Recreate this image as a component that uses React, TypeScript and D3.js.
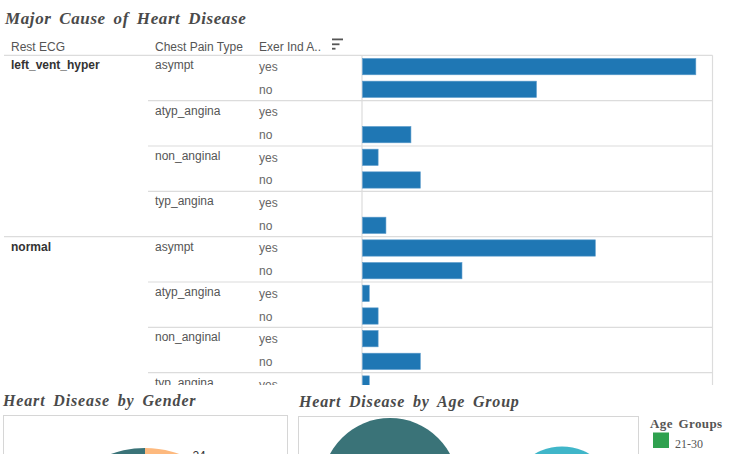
import React from "react";
import * as d3 from "d3";

const restEcg = ["left_vent_hyper", "normal"];
const chestPain = ["asympt", "atyp_angina", "non_anginal", "typ_angina"];
const exerInd = ["yes", "no"];
// counts per chest-pain type, in order [yes, no]
const leftVentHyperCounts = [64, 33.4, 0, 9.3, 3, 11.1, 0, 4.5];
const normalCounts = [44.7, 19.1, 1.3, 3, 3, 11.1, 1.3, 3];

const genderLabels = ["female", "male"];
const genderCounts = [24, 114];
const genderColors = ["#fdb97e", "#3a7378"];

const bubbleGroups = ["51-60", "41-50"];
const bubbleCounts = [64, 40];
const ageGroups = ["21-30", "31-40", "41-50", "51-60", "61-70", "71-80"];
const ageColors = ["#2fa14f", "#9ecae1", "#40b6c9", "#3a7378", "#6baed6", "#c6dbef"];

const W = 736;
const H = 454;
const sans = "'Liberation Sans', Arial, sans-serif";
const serif = "'Liberation Serif', 'Times New Roman', serif";

type Row = { ecg: string; pain: string; ex: string; value: number; key: string };

const rows: Row[] = [];
restEcg.forEach((ecg, ei) => {
  const vals = ei === 0 ? leftVentHyperCounts : normalCounts;
  chestPain.forEach((pain, pi) => {
    exerInd.forEach((ex, xi) => {
      rows.push({ ecg, pain, ex, value: vals[pi * 2 + xi], key: `${ecg}|${pain}|${ex}` });
    });
  });
});

export default function App() {
  const top = 55.3;
  const rowH = 22.67;
  const y = d3
    .scaleBand<string>()
    .domain(rows.map((r) => r.key))
    .range([top, top + rows.length * rowH])
    .paddingInner(0.28)
    .paddingOuter(0.14);
  const x = d3.scaleLinear().domain([0, 67.2]).range([362.5, 712.5]);
  const clipBottom = 385;
  const right = 712.5;
  const lineColor = "#dcdcdc";

  // pie
  const pie = d3.pie<number>().sort(null)(genderCounts);
  const arc = d3.arc<d3.PieArcDatum<number>>().innerRadius(0).outerRadius(100);
  const labelArc = d3.arc<d3.PieArcDatum<number>>().innerRadius(108).outerRadius(108);
  const pieCx = 145;
  const pieCy = 548;

  // bubbles
  const bx = d3.scalePoint<string>().domain(bubbleGroups).range([390, 562]);
  const br = d3.scaleSqrt().domain([0, 64]).range([0, 68]);
  const bubbleBase = 554;
  const ageColor = d3.scaleOrdinal<string, string>().domain(ageGroups).range(ageColors);

  const groupTops: { y: number; ecgStart: boolean }[] = [];
  rows.forEach((r, i) => {
    if (i % 2 === 0 && i > 0) groupTops.push({ y: top + i * rowH, ecgStart: i % 8 === 0 });
  });

  return (
    <svg
      width={W}
      height={H}
      style={{ position: "absolute", left: 0, top: 0, background: "#fff" }}
      fontFamily={sans}
    >
      <defs>
        <clipPath id="tableClip">
          <rect x={0} y={top - 1} width={W} height={clipBottom - top + 1} />
        </clipPath>
      </defs>
      <text
        x={5}
        y={24}
        fontFamily={serif}
        fontWeight="bold"
        fontStyle="italic"
        fontSize={17}
        letterSpacing={0.6}
        wordSpacing={3}
        fill="#4a4a4a"
      >
        Major Cause of Heart Disease
      </text>
      {/* header */}
      <g fontSize={12} fill="#555">
        <text x={11} y={51}>Rest ECG</text>
        <text x={155} y={51}>Chest Pain Type</text>
        <text x={259} y={51}>Exer Ind A..</text>
      </g>
      <g fill="#555">
        <rect x={332} y={38.5} width={11} height={1.8} />
        <rect x={332} y={43.4} width={7.5} height={1.8} />
        <rect x={332} y={47.8} width={3.5} height={1.8} />
      </g>
      <line x1={4} x2={right} y1={top} y2={top} stroke={lineColor} strokeWidth={1.2} />
      <g clipPath="url(#tableClip)">
        {groupTops.map((g, i) => (
          <line
            key={i}
            x1={g.ecgStart ? 4 : 148}
            x2={right}
            y1={g.y}
            y2={g.y}
            stroke={lineColor}
            strokeWidth={1.2}
          />
        ))}
        <line x1={362} x2={362} y1={top} y2={clipBottom} stroke={lineColor} strokeWidth={1.2} />
        <line x1={right} x2={right} y1={top} y2={clipBottom} stroke={lineColor} strokeWidth={1.2} />
        {rows.map((r, i) => {
          const yy = y(r.key)!;
          const rowTop = top + i * rowH;
          return (
            <g key={r.key}>
              {i % 8 === 0 && (
                <text x={11} y={rowTop + 14} fontSize={12} fontWeight="bold" fill="#333">
                  {r.ecg}
                </text>
              )}
              {i % 2 === 0 && (
                <text x={155} y={rowTop + 14} fontSize={12} fill="#555">
                  {r.pain}
                </text>
              )}
              <text x={259} y={rowTop + rowH / 2 + 4.5} fontSize={12} fill="#666">
                {r.ex}
              </text>
              {r.value > 0 && (
                <rect
                  x={x(0)}
                  y={yy}
                  width={x(r.value) - x(0)}
                  height={y.bandwidth()}
                  fill="#1f77b4"
                  stroke="#5d9ccc"
                  strokeWidth={0.6}
                />
              )}
            </g>
          );
        })}
      </g>
      {/* Gender panel */}
      <text
        x={3}
        y={406}
        fontFamily={serif}
        fontWeight="bold"
        fontStyle="italic"
        fontSize={16}
        letterSpacing={0.85}
        wordSpacing={3}
        fill="#4a4a4a"
      >
        Heart Disease by Gender
      </text>
      <rect x={3.5} y={415.5} width={284} height={60} fill="none" stroke="#d6d6d6" />
      <g transform={`translate(${pieCx},${pieCy})`}>
        {pie.map((p, i) => (
          <path key={genderLabels[i]} d={arc(p)!} fill={genderColors[i]} />
        ))}
        {pie
          .filter((p, i) => i === 0)
          .map((p) => {
            const [lx, ly] = labelArc.centroid(p);
            return (
              <text key="lbl" x={lx - 2} y={ly} dy="0.32em" textAnchor="middle" fontSize={12} fill="#333">
                {p.data}
              </text>
            );
          })}
      </g>
      {/* Age group panel */}
      <text
        x={299}
        y={407}
        fontFamily={serif}
        fontWeight="bold"
        fontStyle="italic"
        fontSize={16}
        letterSpacing={0.8}
        wordSpacing={3}
        fill="#4a4a4a"
      >
        Heart Disease by Age Group
      </text>
      <svg x={298.5} y={416.5} width={340} height={60} overflow="hidden">
        <g transform="translate(-298.5,-416.5)">
          {bubbleGroups.map((g, i) => (
            <circle
              key={g}
              cx={bx(g)}
              cy={bubbleBase - br(bubbleCounts[i])}
              r={br(bubbleCounts[i])}
              fill={ageColor(g)}
            />
          ))}
        </g>
      </svg>
      <rect x={298.5} y={416.5} width={340} height={60} fill="none" stroke="#d6d6d6" />
      <text x={650} y={428} fontFamily={serif} fontWeight="bold" fontSize={13} letterSpacing={0.4} wordSpacing={2} fill="#555">
        Age Groups
      </text>
      {ageGroups.map((g, i) => (
        <g key={g} transform={`translate(653,${432.5 + i * 23})`}>
          <rect width={16} height={15.5} fill={ageColor(g)} />
          <text x={22} y={15} fontFamily={serif} fontSize={12} fill="#555">
            {g}
          </text>
        </g>
      ))}
    </svg>
  );
}
